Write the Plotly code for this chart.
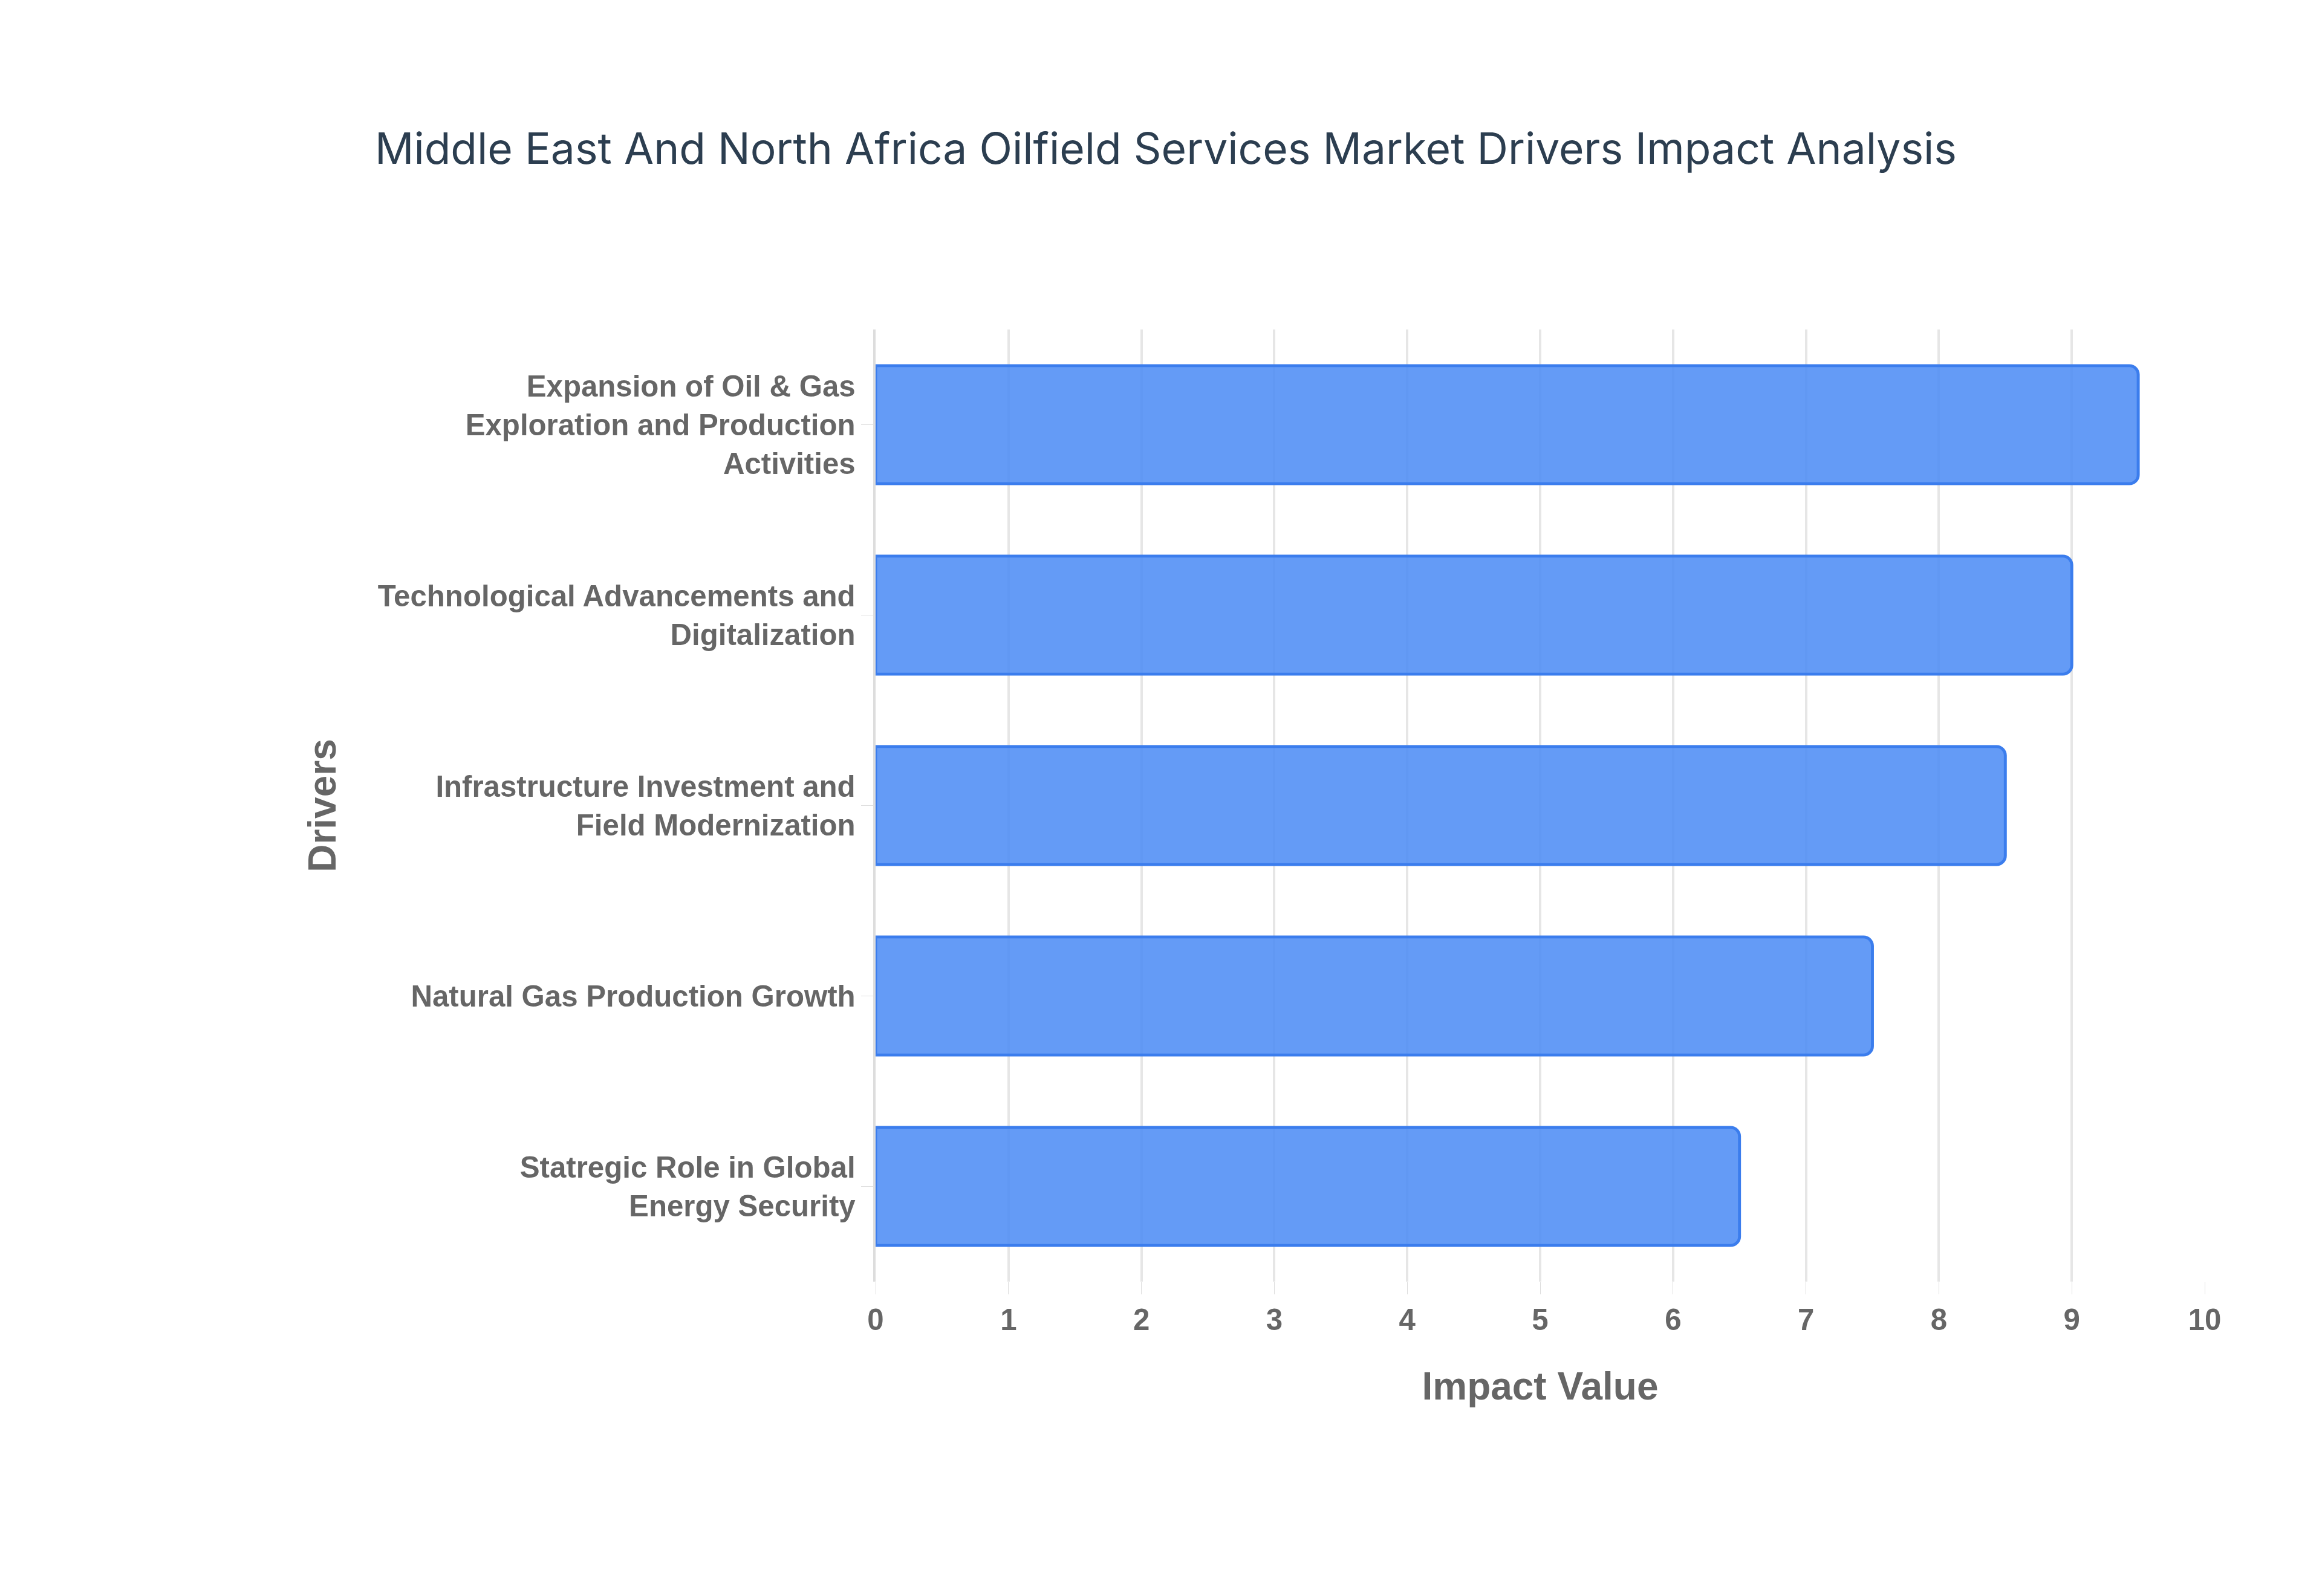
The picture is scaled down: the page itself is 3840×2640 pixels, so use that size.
import plotly.graph_objects as go

drivers = [
    "Expansion of Oil & Gas<br>Exploration and Production<br>Activities",
    "Technological Advancements and<br>Digitalization",
    "Infrastructure Investment and<br>Field Modernization",
    "Natural Gas Production Growth",
    "Statregic Role in Global<br>Energy Security",
]
impact = [9.5, 9.0, 8.5, 7.5, 6.5]
x_ticks = list(range(0, 11))

S = 2.46

fig = go.Figure(go.Bar(
    x=impact, y=drivers, orientation="h",
    width=0.62,
    marker=dict(color="rgba(78,141,245,0.88)", line=dict(color="#3b7ded", width=2 * S),
                cornerradius=6 * S),
    hoverinfo="x+y",
))

tick_font = dict(family="Liberation Sans", size=20 * S, color="#666666")
fig.update_layout(
    width=3840, height=2640,
    paper_bgcolor="white", plot_bgcolor="white",
    title=dict(text="Middle East And North Africa Oilfield Services Market Drivers Impact Analysis",
               x=0.5, xanchor="center", y=0.91, yanchor="middle",
               font=dict(family="Inter", size=29 * S, color="#2c3e50")),
    margin=dict(l=1440, r=3840 - 3638, t=537, b=2640 - 2112),
    xaxis=dict(range=[0, 10], tickvals=x_ticks, showgrid=True, gridcolor="#e6e6e6", gridwidth=1.5 * S,
               zeroline=False, ticks="outside", ticklen=8 * S, tickcolor="#dddddd",
               tickfont=dict(tick_font, weight="bold"),
               title=dict(text="Impact Value", standoff=25 * S,
                          font=dict(family="Liberation Sans", size=26 * S, color="#666666", weight="bold"))),
    yaxis=dict(categoryorder="array", categoryarray=drivers[::-1],
               showline=True, linecolor="#dddddd", linewidth=1.5 * S, showgrid=False,
               ticks="outside", ticklen=8 * S, tickcolor="#dddddd",
               tickfont=dict(tick_font, weight="bold"),
               title=dict(text="Drivers", standoff=20 * S,
                          font=dict(family="Liberation Sans", size=26 * S, color="#666666", weight="bold"))),
    showlegend=False,
)
fig.write_html("out.html")
